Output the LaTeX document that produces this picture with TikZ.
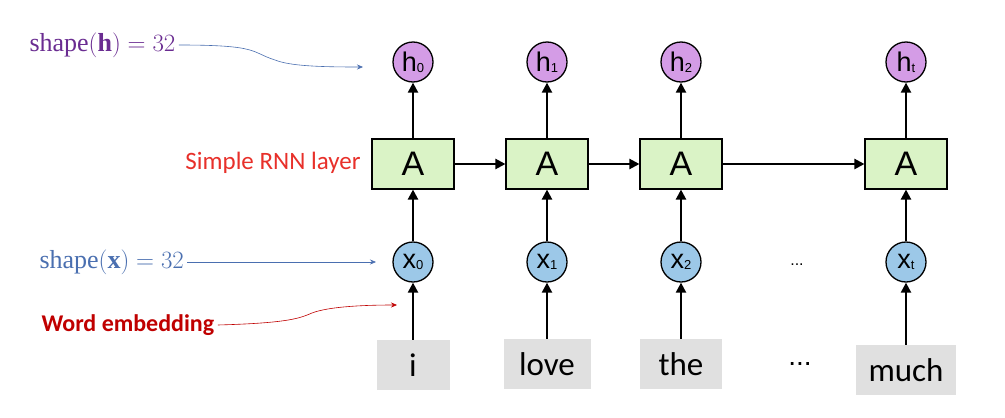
\documentclass[tikz,border=0pt]{standalone}
\usepackage{fontspec}
\setmainfont{Liberation Serif}
\newfontfamily\calib{Carlito}
\newfontfamily\arial{Liberation Sans}
\usetikzlibrary{arrows.meta}
\definecolor{hcol}{HTML}{D49CE6}
\definecolor{xcol}{HTML}{9CC8E8}
\definecolor{acol}{HTML}{DAF3C6}
\definecolor{wcol}{HTML}{E0E0E0}
\definecolor{purp}{HTML}{6A2C91}
\definecolor{bluel}{HTML}{4A6FB0}
\definecolor{redl}{HTML}{E8302A}
\definecolor{dred}{HTML}{C00000}
\begin{document}
\begin{tikzpicture}[x=1pt,y=-1pt,
  hc/.style={circle,draw,line width=1.3pt,fill=hcol,minimum size=40pt,inner sep=0pt,font=\arial\fontsize{27}{27}\selectfont},
  xc/.style={circle,draw,line width=1.3pt,fill=xcol,minimum size=40pt,inner sep=0pt,font=\arial\fontsize{27}{27}\selectfont},
  ab/.style={draw,line width=1.1pt,fill=acol,minimum width=82pt,minimum height=50pt,inner sep=0pt,font=\arial\fontsize{34}{34}\selectfont},
  wb/.style={fill=wcol,minimum height=50pt,inner sep=0pt,font=\calib\fontsize{33}{33}\selectfont},
  ar/.style={-{Triangle[length=10pt,width=10pt]},line width=2.2pt},
  thin/.style={-{Stealth[length=6pt,width=5pt]},line width=0.6pt}]
\fill[white] (0,0) rectangle (1005,418);
\foreach \n/\x/\s in {0/413/0,1/547/1,2/681/2,3/906/t}{
  \node[hc] (h\n) at (\x,62) {h\raisebox{-1pt}{\fontsize{13}{13}\selectfont\s}};
  \node[ab] (a\n) at (\x,164) {A};
  \node[xc] (x\n) at (\x,262) {x\raisebox{-1pt}{\fontsize{13}{13}\selectfont\s}};
  \draw[ar] (a\n) -- (h\n);
  \draw[ar] (x\n) -- (a\n);
}
\node[wb,minimum width=73pt] (w0) at (413,365) {i};
\node[wb,minimum width=87pt] (w1) at (547,364) {love};
\node[wb,minimum width=82pt] (w2) at (681,364) {the};
\node[wb,minimum width=100pt] (w3) at (906,370) {much};
\foreach \n in {0,1,2,3}{\draw[ar] (w\n) -- (x\n);}
\draw[ar] (a0) -- (a1);
\draw[ar] (a1) -- (a2);
\draw[ar] (a2) -- (a3);
\node[font=\arial\fontsize{16}{16}\selectfont] (d1) at (797,265) {...};
\node[font=\arial\fontsize{28}{28}\selectfont] (d2) at (800,364) {...};
\node[font=\fontsize{26}{26}\selectfont,text=purp,anchor=west] (lh) at (26,45) {shape$(\mathbf{h})=32$};
\node[font=\fontsize{26}{26}\selectfont,text=bluel,anchor=west] (lx) at (36,262) {shape$(\mathbf{x})=32$};
\node[font=\calib\fontsize{25}{25}\selectfont,text=redl] (lr) at (273,163) {Simple RNN layer};
\node[font=\calib\bfseries\fontsize{24}{24}\selectfont,text=dred,anchor=west] (lw) at (38,325) {Word embedding};
\coordinate (th) at (363,67);
\coordinate (tx) at (376,262);
\coordinate (tw) at (397,305);
\draw[thin,bluel] (lh.east) .. controls (260,45) and (250,52) .. (275,60) .. controls (290,66) and (320,67) .. (th);
\draw[thin,bluel] (lx.east) -- (tx);
\draw[thin,dred] (lw.east) .. controls (290,323) and (300,318) .. (312,313) .. controls (330,306) and (370,305) .. (tw);
\end{tikzpicture}
\end{document}
